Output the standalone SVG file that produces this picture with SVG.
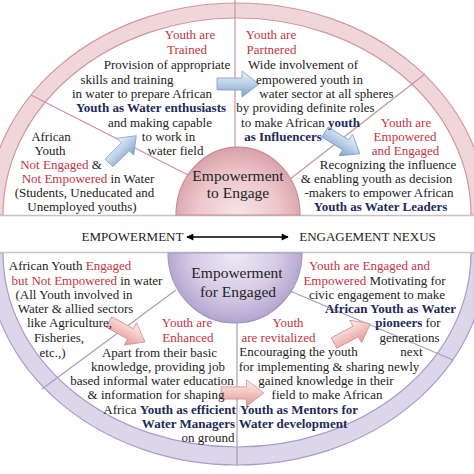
<svg xmlns="http://www.w3.org/2000/svg" width="474" height="474" viewBox="0 0 474 474">
<defs>
<radialGradient id="gTop" cx="238" cy="215" r="70" gradientUnits="userSpaceOnUse">
<stop offset="0" stop-color="#f7e4e6"/><stop offset="0.6" stop-color="#ecc6ca"/><stop offset="1" stop-color="#d69ea5"/>
</radialGradient>
<radialGradient id="gBot" cx="235" cy="253" r="72" gradientUnits="userSpaceOnUse">
<stop offset="0" stop-color="#eee9f5"/><stop offset="0.6" stop-color="#d5cbe6"/><stop offset="1" stop-color="#b0a2cc"/>
</radialGradient>
<linearGradient id="gBlue" x1="0" y1="-13" x2="0" y2="13" gradientUnits="userSpaceOnUse">
<stop offset="0" stop-color="#eef4fb"/><stop offset="0.5" stop-color="#b9cfe8"/><stop offset="1" stop-color="#7f9fc8"/>
</linearGradient>
<linearGradient id="gPink" x1="0" y1="-13" x2="0" y2="13" gradientUnits="userSpaceOnUse">
<stop offset="0" stop-color="#fdf0ef"/><stop offset="0.5" stop-color="#f3c4c2"/><stop offset="1" stop-color="#df9896"/>
</linearGradient>
<path id="blk" d="M0,-6 L25,-6 L25,-13 L42,0 L25,13 L25,6 L0,6 Z"/>
<marker id="ah" viewBox="0 0 10 10" refX="9" refY="5" markerWidth="9" markerHeight="7" orient="auto-start-reverse" markerUnits="userSpaceOnUse">
<path d="M0,0 L10,5 L0,10 Z" fill="#000"/>
</marker>
<style>
text{font-family:"Liberation Serif","Times New Roman",serif;font-size:13px;fill:#222;text-anchor:middle}
.r{fill:#c5333f}
.b{fill:#1c2a5a;font-weight:bold}
.big{font-size:15.5px}
.lt{stroke:#c6959b;stroke-width:1.2;fill:none}
.lb{stroke:#a79cc0;stroke-width:1.2;fill:none}
</style>
</defs>
<rect width="474" height="474" fill="#fff"/>

<g id="top-ring">
<path d="M-13,215 A250,212 0 0 1 487,215 L471,215 A234,197 0 0 0 3,215 Z" fill="#f1d6d9" stroke="#cf979d" stroke-width="1.2"/>
<line x1="0" y1="215.5" x2="474" y2="215.5" stroke="#c9c2c4" stroke-width="1.5"/>
</g>
<g id="bottom-ring">
<path d="M-13,253 A250,212 0 0 0 487,253 L471,253 A234,194 0 0 1 3,253 Z" fill="#ddd5ea" stroke="#a99cc8" stroke-width="1.2"/>
<line x1="0" y1="252.5" x2="474" y2="252.5" stroke="#c6c3cc" stroke-width="1.5"/>
</g>

<g id="connectors">
<line class="lt" x1="235" y1="0" x2="235" y2="160"/>
<line class="lt" x1="190" y1="176" x2="31" y2="95"/>
<line class="lt" x1="285" y1="183" x2="425" y2="74"/>
<line class="lb" x1="237" y1="300" x2="237" y2="466"/>
<line class="lb" x1="176" y1="290" x2="42" y2="389"/>
<line class="lb" x1="290" y1="291" x2="453" y2="360"/>
</g>

<g id="node-center-top">
<path d="M176,215 A62,68 0 0 1 300,215 Z" fill="url(#gTop)" stroke="#c98b92" stroke-width="1.2"/>
<text class="big" x="238" y="181">Empowerment</text>
<text class="big" x="238" y="198">to Engage</text>
</g>
<g id="node-center-bottom">
<path d="M168,253 A67,70 0 0 0 302,253 Z" fill="url(#gBot)" stroke="#a497c2" stroke-width="1.2"/>
<text class="big" x="237" y="278">Empowerment</text>
<text class="big" x="238" y="297">for Engaged</text>
</g>

<g id="arrows">
<use href="#blk" transform="translate(217,84)" fill="url(#gBlue)" stroke="#7f9cc4" stroke-width="0.8"/>
<use href="#blk" transform="translate(109,163) rotate(-45) scale(0.92)" fill="url(#gBlue)" stroke="#7f9cc4" stroke-width="0.8"/>
<use href="#blk" transform="translate(325,132) rotate(32) scale(0.98)" fill="url(#gBlue)" stroke="#7f9cc4" stroke-width="0.8"/>
<use href="#blk" transform="translate(109,322) rotate(29) scale(0.98)" fill="url(#gPink)" stroke="#d38f8e" stroke-width="0.8"/>
<use href="#blk" transform="translate(221,393) scale(1.02)" fill="url(#gPink)" stroke="#d38f8e" stroke-width="0.8"/>
<use href="#blk" transform="translate(334,343) rotate(-28) scale(0.98)" fill="url(#gPink)" stroke="#d38f8e" stroke-width="0.8"/>
<line x1="187" y1="237" x2="288" y2="237" stroke="#000" stroke-width="1.5" marker-start="url(#ah)" marker-end="url(#ah)"/>
</g>

<g id="node-trained">
<text class="r" x="190" y="39">Youth are</text>
<text class="r" x="187" y="54">Trained</text>
<text x="167" y="69">Provision of appropriate</text>
<text x="127" y="84">skills and training</text>
<text x="142" y="98">in water to prepare African</text>
<text class="b" x="151" y="112">Youth as Water enthusiasts</text>
<text x="160" y="127">and making capable</text>
<text x="168.5" y="141">to work in</text>
<text x="175.5" y="155">water field</text>
</g>

<g id="node-not-engaged">
<text x="51" y="141">African</text>
<text x="50" y="155">Youth</text>
<text x="61" y="169"><tspan class="r">Not Engaged</tspan> &amp;</text>
<text x="88" y="183"><tspan class="r">Not Empowered</tspan> in Water</text>
<text x="84.5" y="197">(Students, Uneducated and</text>
<text x="82" y="211">Unemployed youths)</text>
</g>

<g id="node-partnered">
<text class="r" x="271" y="39">Youth are</text>
<text class="r" x="271.5" y="54">Partnered</text>
<text x="303" y="69">Wide involvement of</text>
<text x="309.5" y="84">empowered youth in</text>
<text x="326.5" y="98">water sector at all spheres</text>
<text x="305.5" y="112">by providing definite roles</text>
<text x="300.5" y="127">to make African <tspan class="b">youth</tspan></text>
<text class="b" x="283" y="141">as Influencers</text>
</g>

<g id="node-empowered-engaged">
<text class="r" x="406" y="127">Youth are</text>
<text class="r" x="405" y="141">Empowered</text>
<text class="r" x="405.5" y="155">and Engaged</text>
<text x="388" y="169">Recognizing the influence</text>
<text x="376.5" y="183">&amp; enabling youth as decision</text>
<text x="379" y="197">-makers to empower African</text>
<text class="b" x="380.5" y="211">Youth as Water Leaders</text>
</g>

<g id="nexus-label">
<text x="132.5" y="241">EMPOWERMENT</text>
<text x="367.5" y="241">ENGAGEMENT NEXUS</text>
</g>

<g id="node-engaged-not-empowered">
<text x="70" y="270">African Youth <tspan class="r">Engaged</tspan></text>
<text x="87" y="285"><tspan class="r">but Not Empowered</tspan> in water</text>
<text x="74" y="299">(All Youth involved in</text>
<text x="75.5" y="313">Water &amp; allied sectors</text>
<text x="69.5" y="327">like Agriculture,</text>
<text x="59" y="342">Fisheries,</text>
<text x="52.5" y="357">etc.,)</text>
</g>

<g id="node-enhanced">
<text class="r" x="187" y="327">Youth are</text>
<text class="r" x="188" y="342">Enhanced</text>
<text x="159.5" y="357">Apart from their basic</text>
<text x="158" y="371">knowledge,  providing job</text>
<text x="152" y="385">based informal water education</text>
<text x="156" y="399">&amp; information for shaping</text>
<text x="169.5" y="414">Africa <tspan class="b">Youth as efficient</tspan></text>
<text class="b" x="188.5" y="428">Water Managers</text>
<text x="208" y="442">on ground</text>
</g>

<g id="node-revitalized">
<text class="r" x="288" y="327">Youth</text>
<text class="r" x="278.5" y="342">are revitalized</text>
<text x="298.5" y="356">Encouraging the youth</text>
<text x="329" y="371">for implementing &amp; sharing newly</text>
<text x="326" y="385">gained knowledge in their</text>
<text x="327" y="399">field to make African</text>
<text class="b" x="299" y="414">Youth as Mentors for</text>
<text class="b" x="293" y="428">Water development</text>
</g>

<g id="node-engaged-empowered">
<text class="r" x="369.5" y="270">Youth are Engaged and</text>
<text x="374.5" y="285"><tspan class="r">Empowered</tspan>  Motivating for</text>
<text x="377" y="299">civic engagement to make</text>
<text class="b" x="390.5" y="313">African Youth as Water</text>
<text x="408" y="327"><tspan class="b">pioneers</tspan> for</text>
<text x="409.5" y="342">generations</text>
<text x="411.5" y="356">next</text>
</g>
</svg>
